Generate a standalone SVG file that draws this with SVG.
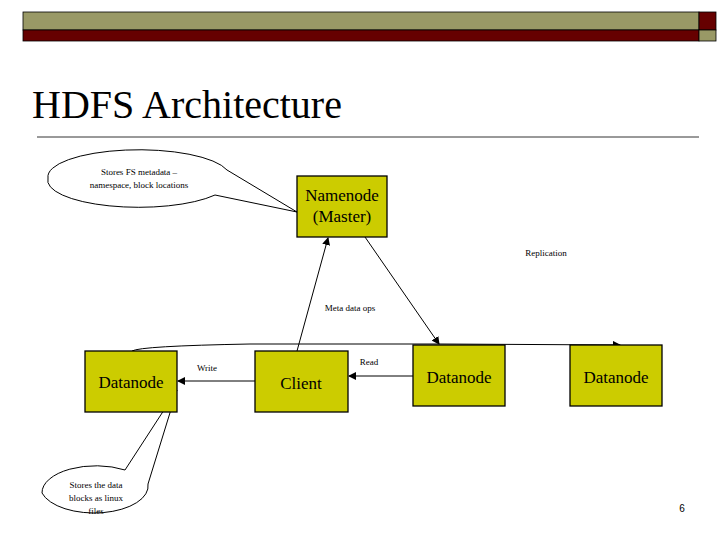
<svg xmlns="http://www.w3.org/2000/svg" width="728" height="546" viewBox="0 0 728 546">
<style>
.box{fill:#cccc00;stroke:#000;stroke-width:1.3}
.bt{font-family:"Liberation Serif",serif;font-size:17px;text-anchor:middle}
.sm{font-family:"Liberation Serif",serif;font-size:9px;text-anchor:middle}
.ln{stroke:#000;stroke-width:1;fill:none}
.co{fill:#fff;stroke:#000;stroke-width:1}
</style>
<defs><marker id="a" markerWidth="8" markerHeight="8" refX="7" refY="4" orient="auto" markerUnits="userSpaceOnUse"><path d="M0,0L8,4L0,8z"/></marker></defs>
<rect width="728" height="546" fill="#fff"/>
<g id="header" stroke="#000" stroke-width="0.8">
<rect x="23" y="12" width="676" height="18" fill="#999966"/>
<rect x="699" y="12" width="17" height="18" fill="#660000"/>
<rect x="23" y="30" width="676" height="11" fill="#660000"/>
<rect x="699" y="30" width="17" height="11" fill="#999966"/>
</g>
<text x="32" y="118" font-family="Liberation Serif,serif" font-size="40">HDFS Architecture</text>
<line x1="37" y1="137" x2="699" y2="137" stroke="#000" stroke-width="0.8"/>
<g id="connectors">
<path class="ln" d="M132,351 Q140,346 250,344 L440,344 L620,345" marker-end="url(#a)"/>
<line class="ln" x1="297" y1="351" x2="328" y2="238" marker-end="url(#a)"/>
<line class="ln" x1="365" y1="237" x2="439" y2="344" marker-end="url(#a)"/>
<line class="ln" x1="413" y1="376" x2="349" y2="376" marker-end="url(#a)"/>
<line class="ln" x1="255" y1="381" x2="178" y2="381" marker-end="url(#a)"/>
<text class="sm" x="350" y="311">Meta data ops</text>
<text class="sm" x="369" y="365">Read</text>
<text class="sm" x="207" y="371">Write</text>
<text class="sm" x="546" y="256">Replication</text>
</g>
<g id="callout1">
<path class="co" d="M48,178 A91,27 0 0 1 227,170 L297,212 L215,195 A91,27 0 0 1 48,178z"/>
<text class="sm" x="139" y="175">Stores FS metadata –</text>
<text class="sm" x="139" y="188">namespace, block locations</text>
</g>
<g id="callout2">
<path class="co" d="M42,493 A54,27 0 0 1 125,470 L177,390 L148,484 A54,27 0 0 1 42,493z"/>
<text class="sm" x="96" y="488">Stores the data</text>
<text class="sm" x="96" y="501">blocks as linux</text>
<text class="sm" x="96" y="514">files</text>
</g>
<g id="namenode"><rect class="box" x="297" y="176" width="90" height="61"/><text class="bt" x="342" y="201">Namenode</text><text class="bt" x="342" y="222">(Master)</text></g>
<g id="datanode1"><rect class="box" x="85" y="351" width="92" height="61"/><text class="bt" x="131" y="388">Datanode</text></g>
<g id="client"><rect class="box" x="255" y="351" width="93" height="61"/><text class="bt" x="301" y="389">Client</text></g>
<g id="datanode2"><rect class="box" x="413" y="345" width="92" height="61"/><text class="bt" x="459" y="383">Datanode</text></g>
<g id="datanode3"><rect class="box" x="570" y="345" width="92" height="61"/><text class="bt" x="616" y="383">Datanode</text></g>
<text x="682" y="512" font-family="Liberation Sans,sans-serif" font-size="10" text-anchor="middle">6</text>
</svg>
